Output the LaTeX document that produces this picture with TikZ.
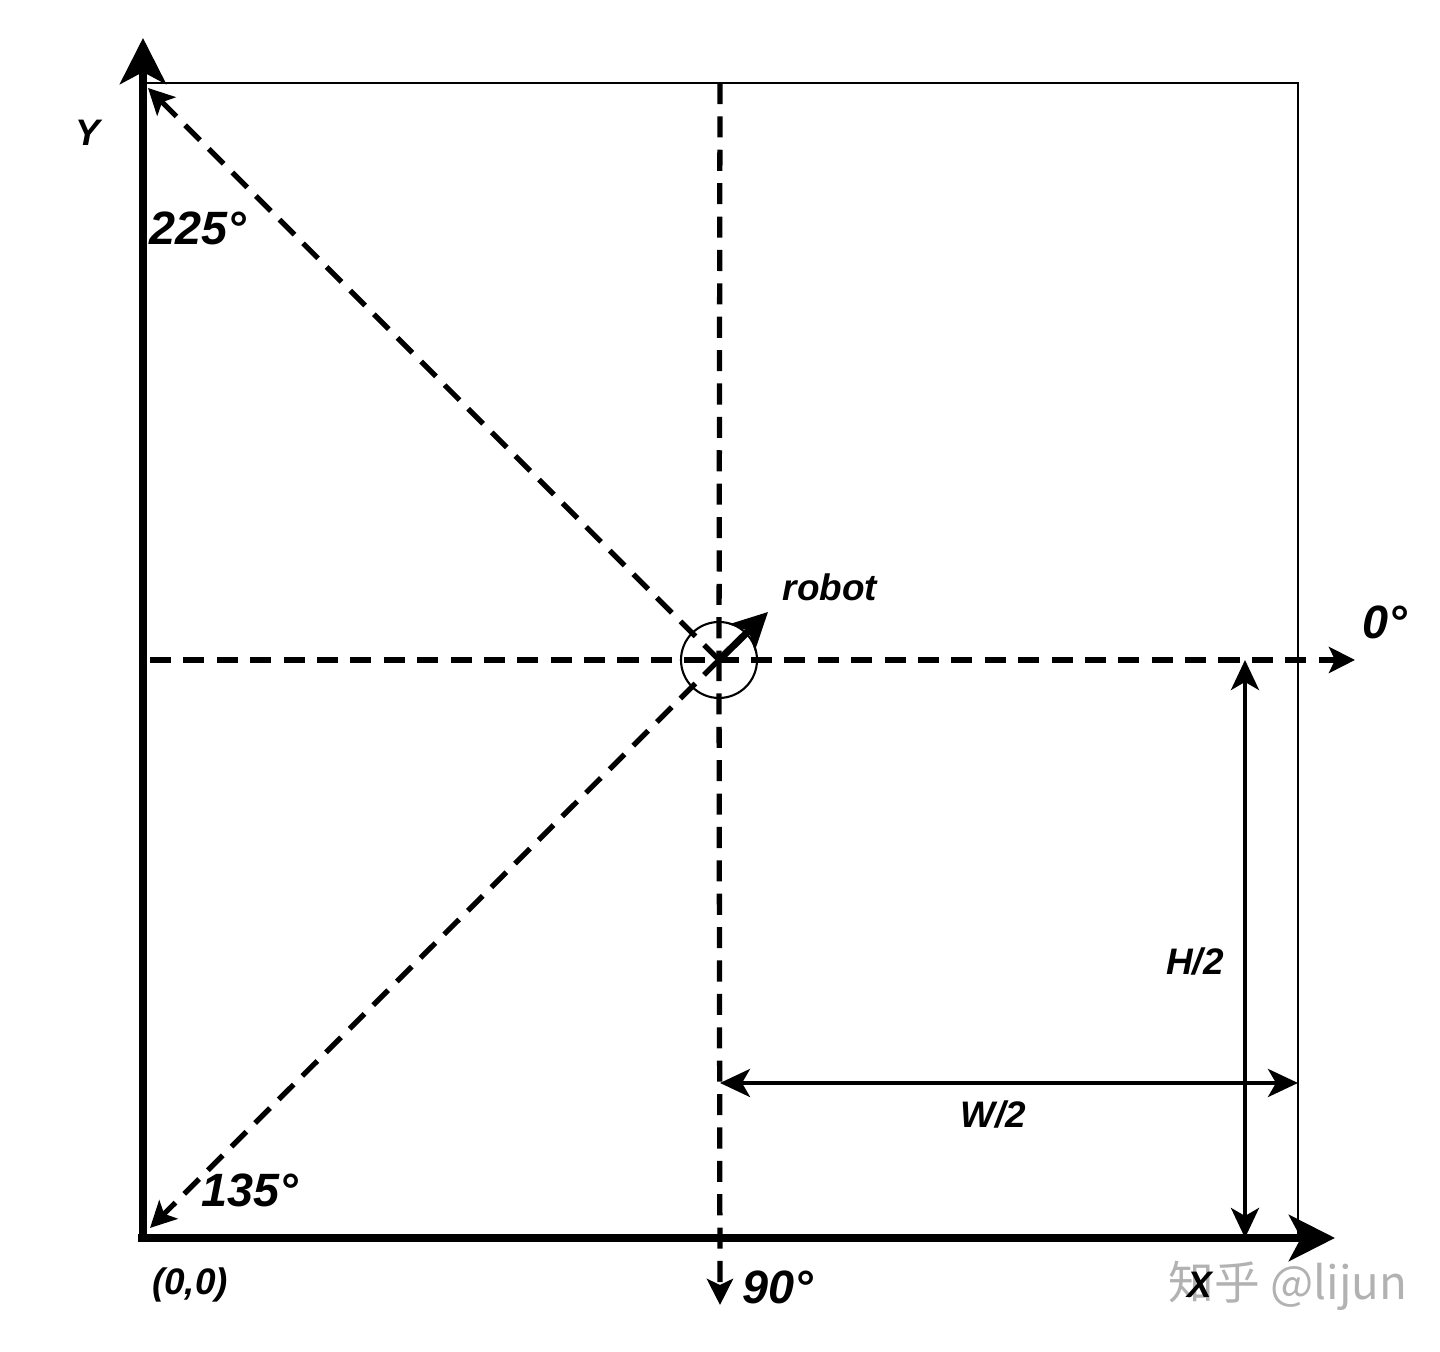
\documentclass[tikz,border=0pt]{standalone}
\usepackage{fontspec}
\setmainfont{Liberation Sans}
\newfontfamily\cjk{Noto Sans CJK SC}
\usetikzlibrary{arrows.meta}
\begin{document}
\begin{tikzpicture}[axis_style/.style={draw=black,line width=2.3pt,-{Stealth[length=4.6mm,width=4.6mm,inset=1.2mm]}},
           dash_style/.style={draw=black,line width=1.5pt,dash pattern=on 6pt off 3.5pt,-{Stealth[length=2.6mm,width=2.6mm,inset=0.6mm]}},
           dim_style/.style={draw=black,line width=1.2pt,{Stealth[length=3mm,width=2.8mm,inset=0.8mm]}-{Stealth[length=3mm,width=2.8mm,inset=0.8mm]}},
           big_label/.style={font=\fontsize{13.3}{15}\selectfont\bfseries\itshape},
           small_label/.style={font=\fontsize{10.5}{12}\selectfont\bfseries\itshape}]
            \useasboundingbox (0,0) rectangle (14.4,13.52);
            % frame and axes
            \coordinate (O) at (1.43, 1.14);
            \coordinate (ytip) at (1.43, 13.14);
            \coordinate (xtip) at (13.35, 1.14);
            \coordinate (tr) at (12.98, 12.69);
            \draw[line width=0.5pt] (O) rectangle (tr);
            \draw[axis_style] (O) -- (ytip);
            \draw[axis_style] (1.38, 1.14) -- (xtip);
            % robot and heading lines
            \node[circle,draw=black,line width=0.6pt,minimum size=0.76cm,inner sep=0pt] (robot) at (7.19, 6.92) {};
            \coordinate (top) at (7.20, 12.69);
            \coordinate (down) at (7.20, 0.47);
            \coordinate (left) at (1.50, 6.92);
            \coordinate (right) at (13.55, 6.92);
            \coordinate (ul) at (1.48, 12.64);
            \coordinate (ll) at (1.50, 1.24);
            \draw[dash_style,-]  (top) -- (robot.center);
            \draw[dash_style]  (robot.center) -- (down);
            \draw[dash_style]  (left) -- (right);
            \draw[dash_style]  (robot.center) -- (ul);
            \draw[dash_style]  (robot.center) -- (ll);
            \coordinate (head) at (7.68, 7.40);
            \draw[draw=black,line width=2pt,-{Stealth[length=3.6mm,width=3.6mm,inset=0.9mm]}] (robot.center) -- (head);
            % half sizes
            \coordinate (w1) at (7.20, 2.69);
            \coordinate (w2) at (12.98, 2.69);
            \coordinate (h1) at (12.45, 6.92);
            \coordinate (h2) at (12.45, 1.14);
            \draw[dim_style] (w1) -- (w2);
            \draw[dim_style] (h1) -- (h2);
            % labels
            \node[small_label] (ylab) at (0.88, 12.19) {Y};
            \node[big_label] (l225) at (1.98, 11.24) {225°};
            \node[small_label] (rlab) at (8.30, 7.65) {robot};
            \node[big_label] (l0) at (13.85, 7.30) {0°};
            \node[big_label] (l135) at (2.50, 1.62) {135°};
            \node[small_label] (olab) at (1.90, 0.67) {(0,0)};
            \node[big_label] (l90) at (7.78, 0.65) {90°};
            \node[text=black!30,font=\cjk\fontsize{13}{15}\selectfont] (mark) at (12.88, 0.66) {知乎 @lijun};
            \node[small_label] (xlab) at (12.00, 0.67) {X};
            \node[small_label] (hlab) at (11.95, 3.90) {H/2};
            \node[small_label] (wlab) at (9.93, 2.37) {W/2};
        \end{tikzpicture}
\end{document}
